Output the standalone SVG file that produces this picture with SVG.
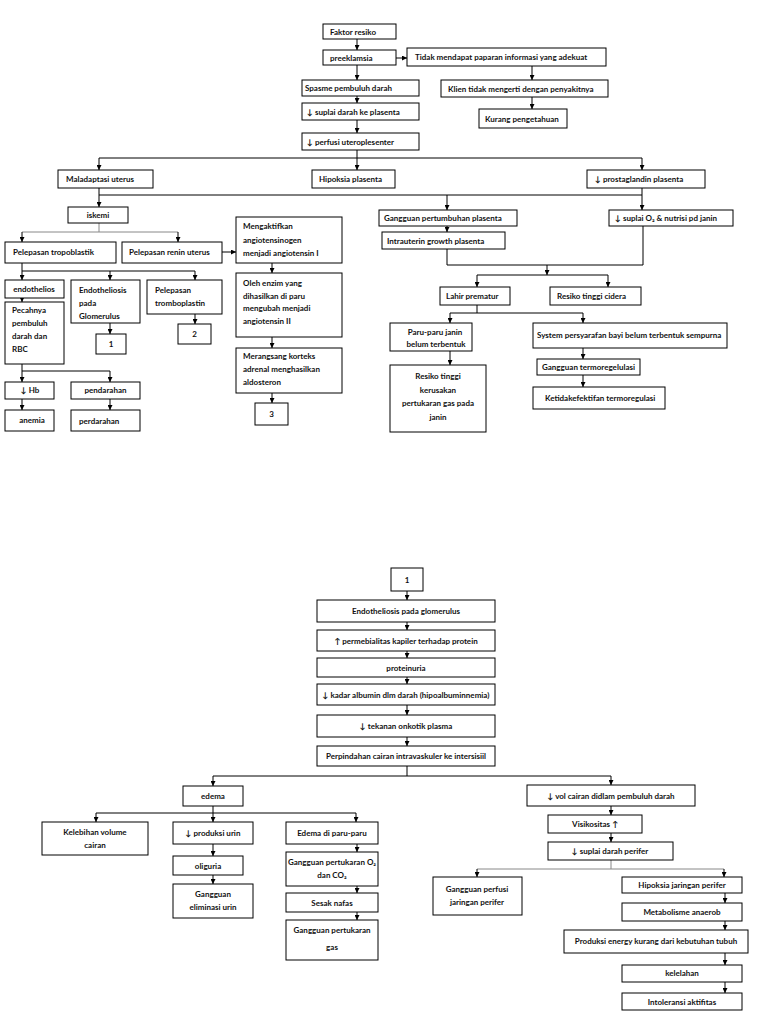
<svg xmlns="http://www.w3.org/2000/svg" width="768" height="1024" viewBox="0 0 768 1024">
<style>
.b{fill:#fff;stroke:#000;stroke-width:1}
.t{font-family:Lato,"DejaVu Sans",sans-serif;font-size:8px;font-weight:700;fill:#111}
.c{text-anchor:middle}
.l{fill:none;stroke:#000;stroke-width:1}
.g{fill:none;stroke:#888;stroke-width:1}
.a{marker-end:url(#ah)}
</style>
<defs>
<marker id="ah" markerWidth="5" markerHeight="5" refX="5" refY="2.5" orient="auto" markerUnits="userSpaceOnUse"><path d="M0,0 L5,2.5 L0,5 z" fill="#000"/></marker>
</defs>
<rect width="768" height="1024" fill="#fff"/>
<g id="connectors">
<path class="l a" d="M357,39 V50"/>
<path class="l a" d="M396,58 H407"/>
<path class="l a" d="M357,65 V80"/>
<path class="l a" d="M532,66 V80"/>
<path class="l a" d="M532,97 V109"/>
<path class="l a" d="M357,96 V103"/>
<path class="l a" d="M357,120 V133"/>
<path class="l" d="M357,150 V158 M99,158 H642"/>
<path class="l a" d="M99,158 V170"/>
<path class="l a" d="M357,158 V170"/>
<path class="l a" d="M642,158 V170"/>
<path class="l" d="M99,188 V195 H642 V188"/>
<path class="l a" d="M99,195 V207"/>
<path class="l a" d="M447,195 V210"/>
<path class="l a" d="M642,195 V210"/>
<path class="g" d="M99,223 V232 M22,232 H178"/>
<path class="l a" d="M22,232 V242"/>
<path class="l a" d="M178,232 V242"/>
<path class="l a" d="M222,252 H236"/>
<path class="l" d="M22,263 V271 H195"/>
<path class="l a" d="M22,271 V280"/>
<path class="l a" d="M110,271 V280"/>
<path class="l a" d="M195,271 V280"/>
<path class="l a" d="M22,298 V302"/>
<path class="l a" d="M110,323 V334"/>
<path class="l a" d="M195,314 V324"/>
<path class="l" d="M22,364 V371 H110"/>
<path class="l a" d="M22,371 V382"/>
<path class="l a" d="M110,371 V382"/>
<path class="l a" d="M22,399 V410"/>
<path class="l a" d="M110,399 V410"/>
<path class="l a" d="M272,263 V273"/>
<path class="l a" d="M272,337 V348"/>
<path class="l a" d="M272,393 V403"/>
<path class="l a" d="M447,226 V232"/>
<path class="l" d="M447,249 V265 H643 V226"/>
<path class="l a" d="M547,265 V275"/>
<path class="l" d="M477,275 H608"/>
<path class="l a" d="M477,275 V287"/>
<path class="l a" d="M608,275 V287"/>
<path class="l" d="M477,305 V313 M450,313 H583"/>
<path class="l a" d="M450,313 V323"/>
<path class="l a" d="M583,313 V323"/>
<path class="l a" d="M450,351 V365"/>
<path class="l a" d="M583,348 V359"/>
<path class="l a" d="M583,375 V387"/>
<path class="l a" d="M407,591 V600"/>
<path class="l a" d="M407,622 V630"/>
<path class="l a" d="M407,651 V658"/>
<path class="l a" d="M407,677 V684"/>
<path class="l a" d="M407,705 V715"/>
<path class="l a" d="M407,737 V746"/>
<path class="l" d="M407,766 V776 M213,776 H611"/>
<path class="l a" d="M213,776 V786"/>
<path class="l a" d="M611,776 V785"/>
<path class="l" d="M213,806 V813 M96,813 H356"/>
<path class="l a" d="M96,813 V822"/>
<path class="l a" d="M213,813 V822"/>
<path class="l a" d="M356,813 V822"/>
<path class="l a" d="M213,844 V856"/>
<path class="l a" d="M213,875 V884"/>
<path class="l a" d="M357,844 V852"/>
<path class="l a" d="M357,886 V893"/>
<path class="l a" d="M357,912 V920"/>
<path class="l a" d="M611,806 V815"/>
<path class="l a" d="M611,833 V842"/>
<path class="g" d="M611,860 V869 M477,869 H724"/>
<path class="l a" d="M477,869 V877"/>
<path class="l a" d="M724,869 V877"/>
<path class="l a" d="M725,893 V903"/>
<path class="l a" d="M725,921 V930"/>
<path class="l a" d="M725,953 V965"/>
<path class="l a" d="M725,982 V993"/>
</g>
<g id="faktor"><rect class="b" x="323" y="24" width="73" height="15"/><text class="t" x="330" y="35">Faktor resiko</text></g>
<g id="preeklamsia"><rect class="b" x="323" y="50" width="73" height="15"/><text class="t" x="330" y="61">preeklamsia</text></g>
<g id="tidak"><rect class="b" x="407" y="48" width="199" height="18"/><text class="t" x="415" y="60">Tidak mendapat paparan informasi yang adekuat</text></g>
<g id="spasme"><rect class="b" x="302" y="80" width="117" height="16"/><text class="t" x="305" y="91">Spasme pembuluh darah</text></g>
<g id="klien"><rect class="b" x="441" y="80" width="167" height="17"/><text class="t" x="448" y="92">Klien tidak mengerti dengan penyakitnya</text></g>
<g id="suplai"><rect class="b" x="302" y="103" width="117" height="17"/><text class="t" x="307" y="115">↓ suplai darah ke plasenta</text></g>
<g id="kurang"><rect class="b" x="479" y="109" width="88" height="19"/><text class="t" x="485" y="122">Kurang pengetahuan</text></g>
<g id="perfusi"><rect class="b" x="302" y="133" width="117" height="17"/><text class="t" x="307" y="145">↓ perfusi uteroplesenter</text></g>
<g id="maladaptasi"><rect class="b" x="58" y="170" width="95" height="18"/><text class="t" x="66" y="182">Maladaptasi uterus</text></g>
<g id="hipoksia"><rect class="b" x="312" y="170" width="83" height="18"/><text class="t" x="319" y="182">Hipoksia plasenta</text></g>
<g id="prostaglandin"><rect class="b" x="587" y="170" width="118" height="18"/><text class="t" x="595" y="182">↓ prostaglandin plasenta</text></g>
<g id="iskemi"><rect class="b" x="68" y="207" width="60" height="16"/><text class="t c" x="98" y="218">iskemi</text></g>
<g id="tropoblastik"><rect class="b" x="5" y="242" width="111" height="21"/><text class="t" x="13" y="255">Pelepasan tropoblastik</text></g>
<g id="renin"><rect class="b" x="122" y="242" width="100" height="21"/><text class="t" x="129" y="255">Pelepasan renin uterus</text></g>
<g id="endothelios"><rect class="b" x="5" y="280" width="59" height="18"/><text class="t c" x="34" y="292">endothelios</text></g>
<g id="endotheliosis-glom"><rect class="b" x="71" y="280" width="69" height="43"/><text class="t" x="79" y="293">Endotheliosis</text><text class="t" x="79" y="306">pada</text><text class="t" x="79" y="319">Glomerulus</text></g>
<g id="tromboplastin"><rect class="b" x="147" y="280" width="75" height="34"/><text class="t" x="155" y="293">Pelepasan</text><text class="t" x="155" y="306">tromboplastin</text></g>
<g id="pecahnya"><rect class="b" x="5" y="302" width="59" height="62"/><text class="t" x="12" y="313">Pecahnya</text><text class="t" x="12" y="326">pembuluh</text><text class="t" x="12" y="339">darah dan</text><text class="t" x="12" y="352">RBC</text></g>
<g id="ref1a"><rect class="b" x="96" y="334" width="30" height="20"/><text class="t c" x="111" y="347">1</text></g>
<g id="ref2"><rect class="b" x="178" y="324" width="33" height="20"/><text class="t c" x="194.5" y="337">2</text></g>
<g id="hb"><rect class="b" x="5" y="382" width="49" height="17"/><text class="t c" x="30" y="393">↓ Hb</text></g>
<g id="pendarahan"><rect class="b" x="71" y="382" width="69" height="17"/><text class="t c" x="105.5" y="393">pendarahan</text></g>
<g id="anemia"><rect class="b" x="5" y="410" width="49" height="21"/><text class="t c" x="32" y="423">anemia</text></g>
<g id="perdarahan"><rect class="b" x="71" y="410" width="69" height="21"/><text class="t" x="79" y="424">perdarahan</text></g>
<g id="mengaktifkan"><rect class="b" x="236" y="217" width="106" height="46"/><text class="t" x="243" y="229">Mengaktifkan</text><text class="t" x="243" y="243">angiotensinogen</text><text class="t" x="243" y="256">menjadi angiotensin I</text></g>
<g id="oleh"><rect class="b" x="236" y="273" width="106" height="64"/><text class="t" x="243" y="286">Oleh enzim yang</text><text class="t" x="243" y="298.5">dihasilkan di paru</text><text class="t" x="243" y="311">mengubah menjadi</text><text class="t" x="243" y="323.5">angiotensin II</text></g>
<g id="merangsang"><rect class="b" x="236" y="348" width="106" height="45"/><text class="t" x="243" y="359">Merangsang korteks</text><text class="t" x="243" y="372">adrenal menghasilkan</text><text class="t" x="243" y="385">aldosteron</text></g>
<g id="ref3"><rect class="b" x="255" y="403" width="33" height="22"/><text class="t c" x="271.5" y="417">3</text></g>
<g id="gangguan-pertumbuhan"><rect class="b" x="379" y="210" width="138" height="16"/><text class="t" x="384" y="221">Gangguan pertumbuhan plasenta</text></g>
<g id="suplai-o2"><rect class="b" x="609" y="210" width="124" height="16"/><text class="t" x="615" y="221">↓ suplai O₂ &amp; nutrisi pd janin</text></g>
<g id="intrauterin"><rect class="b" x="382" y="232" width="123" height="17"/><text class="t" x="387" y="244">Intrauterin growth plasenta</text></g>
<g id="lahir"><rect class="b" x="440" y="287" width="70" height="18"/><text class="t" x="446" y="299">Lahir prematur</text></g>
<g id="cidera"><rect class="b" x="550" y="287" width="91" height="18"/><text class="t" x="557" y="299">Resiko tinggi cidera</text></g>
<g id="paru"><rect class="b" x="390" y="323" width="82" height="28"/><text class="t c" x="435" y="335">Paru-paru janin</text><text class="t c" x="436" y="347">belum terbentuk</text></g>
<g id="kerusakan"><rect class="b" x="390" y="365" width="96" height="67"/><text class="t c" x="438" y="379">Resiko tinggi</text><text class="t c" x="438" y="393">kerusakan</text><text class="t c" x="438" y="406">pertukaran gas pada</text><text class="t c" x="438" y="420">janin</text></g>
<g id="system"><rect class="b" x="533" y="323" width="194" height="25"/><text class="t" x="537" y="338">System persyarafan bayi belum terbentuk sempurna</text></g>
<g id="termoregelulasi"><rect class="b" x="537" y="359" width="103" height="16"/><text class="t" x="542" y="370">Gangguan termoregelulasi</text></g>
<g id="ketidakefektifan"><rect class="b" x="533" y="387" width="132" height="22"/><text class="t" x="545" y="401">Ketidakefektifan termoregulasi</text></g>
<g id="ref1b"><rect class="b" x="391" y="568" width="32" height="23"/><text class="t c" x="407" y="583">1</text></g>
<g id="endotheliosis"><rect class="b" x="317" y="600" width="178" height="22"/><text class="t c" x="406" y="614">Endotheliosis pada glomerulus</text></g>
<g id="permeabilitas"><rect class="b" x="317" y="630" width="178" height="21"/><text class="t c" x="406" y="644">↑ permebialitas kapiler terhadap protein</text></g>
<g id="proteinuria"><rect class="b" x="317" y="658" width="178" height="19"/><text class="t c" x="406" y="671">proteinuria</text></g>
<g id="albumin"><rect class="b" x="317" y="684" width="178" height="21"/><text class="t c" x="406" y="698">↓ kadar albumin dlm darah (hipoalbuminnemia)</text></g>
<g id="onkotik"><rect class="b" x="317" y="715" width="178" height="22"/><text class="t c" x="406" y="729">↓ tekanan onkotik plasma</text></g>
<g id="perpindahan"><rect class="b" x="317" y="746" width="178" height="20"/><text class="t c" x="406" y="759">Perpindahan cairan intravaskuler ke intersisiil</text></g>
<g id="edema"><rect class="b" x="183" y="786" width="60" height="20"/><text class="t c" x="213" y="799">edema</text></g>
<g id="kelebihan"><rect class="b" x="42" y="822" width="106" height="33"/><text class="t c" x="95" y="835">Kelebihan volume</text><text class="t c" x="95" y="848">cairan</text></g>
<g id="produksi-urin"><rect class="b" x="173" y="822" width="80" height="22"/><text class="t c" x="213" y="836">↓ produksi urin</text></g>
<g id="oliguria"><rect class="b" x="173" y="856" width="70" height="19"/><text class="t c" x="208" y="869">oliguria</text></g>
<g id="eliminasi"><rect class="b" x="173" y="884" width="80" height="34"/><text class="t c" x="213" y="897">Gangguan</text><text class="t c" x="213" y="910">eliminasi urin</text></g>
<g id="edema-paru"><rect class="b" x="286" y="822" width="92" height="22"/><text class="t c" x="332" y="836">Edema di paru-paru</text></g>
<g id="pertukaran-o2"><rect class="b" x="286" y="852" width="92" height="34"/><text class="t c" x="332" y="865">Gangguan pertukaran O₂</text><text class="t c" x="332" y="878">dan CO₂</text></g>
<g id="sesak"><rect class="b" x="286" y="893" width="92" height="19"/><text class="t c" x="332" y="906">Sesak nafas</text></g>
<g id="pertukaran-gas"><rect class="b" x="286" y="920" width="92" height="40"/><text class="t c" x="332" y="933">Gangguan pertukaran</text><text class="t c" x="332" y="950">gas</text></g>
<g id="vol-cairan"><rect class="b" x="527" y="785" width="168" height="21"/><text class="t c" x="611" y="799">↓ vol cairan didlam pembuluh darah</text></g>
<g id="visikositas"><rect class="b" x="548" y="815" width="94" height="18"/><text class="t c" x="595" y="827">Visikositas ↑</text></g>
<g id="suplai-perifer"><rect class="b" x="548" y="842" width="125" height="18"/><text class="t c" x="610" y="854">↓ suplai darah perifer</text></g>
<g id="perfusi-perifer"><rect class="b" x="433" y="877" width="89" height="38"/><text class="t c" x="477" y="892">Gangguan perfusi</text><text class="t c" x="477" y="905">jaringan perifer</text></g>
<g id="hipoksia-perifer"><rect class="b" x="622" y="877" width="120" height="16"/><text class="t c" x="682" y="888">Hipoksia jaringan perifer</text></g>
<g id="metabolisme"><rect class="b" x="622" y="903" width="120" height="18"/><text class="t c" x="682" y="915">Metabolisme anaerob</text></g>
<g id="energy"><rect class="b" x="564" y="930" width="184" height="23"/><text class="t c" x="656" y="944">Produksi energy kurang dari kebutuhan tubuh</text></g>
<g id="kelelahan"><rect class="b" x="622" y="965" width="120" height="17"/><text class="t c" x="682" y="976">kelelahan</text></g>
<g id="intoleransi"><rect class="b" x="622" y="993" width="120" height="17"/><text class="t c" x="682" y="1005">Intoleransi aktifitas</text></g>
</svg>
